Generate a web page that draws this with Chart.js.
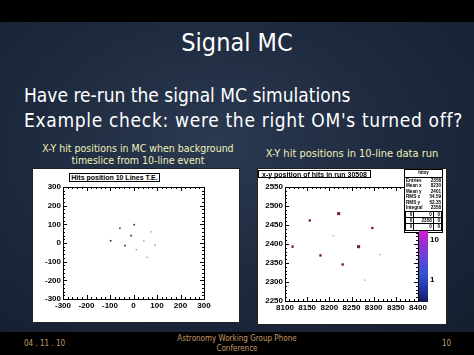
<!DOCTYPE html>
<html>
<head>
<meta charset="utf-8">
<script src="https://cdn.jsdelivr.net/npm/chart.js@4.4.1/dist/chart.umd.min.js"></script>
<style>
  html, body { margin: 0; padding: 0; width: 474px; height: 355px; overflow: hidden; background: #000; }
  body { position: relative; font-family: "DejaVu Sans Condensed", "DejaVu Sans", sans-serif; }
  .abs { position: absolute; white-space: nowrap; }
  #slide { left: 0; top: 22px; width: 474px; height: 310px;
    background: radial-gradient(ellipse at 45% 40%, #2b3a52 0%, #1f2b40 45%, #151e2f 100%); }
  #title { left: 0; width: 474px; top: 29px; text-align: center; color: #fff; font-size: 25px; line-height: 28px; }
  .bullet { left: 24px; color: #fff; font-size: 19px; line-height: 22px; }
  .cap { color: #f0f2b8; font-size: 10.5px; line-height: 12px; text-align: center; }
  .pad { background: #fff; border: 1px solid #222; box-sizing: border-box; }
  .histTitle { background: #fff; border: 1px solid #000; font: bold 7px "Liberation Sans", sans-serif;
    line-height: 7px; text-align: center; box-sizing: border-box; }
  #stats { left: 404px; top: 169px; width: 39px; height: 64px; border: 1px solid #000; background: #fff;
    box-sizing: border-box; font: bold 4.6px "Liberation Sans", sans-serif; }
  #stats table { border-collapse: collapse; width: 100%; }
  #stats td { padding: 0 1px; line-height: 5.6px; }
  #stats td.r { text-align: right; }
  #stats .hd { text-align: center; border-bottom: 1px solid #000; line-height: 6.5px; }
  #stats .g td { border: 1px solid #000; text-align: right; line-height: 5.2px; }
  #palette { left: 419px; top: 231px; width: 9px; height: 71px;
    background: linear-gradient(to bottom, #d21fd0 0%, #9a2fd0 18%, #5f45d8 40%, #3553d0 60%, #2238a8 80%, #15185e 100%); }
  .pal { font: bold 8px "Liberation Sans", sans-serif; color: #000; }
  .foot { color: #c49a66; font-size: 8px; line-height: 10px; }
</style>
</head>
<body>
<div id="slide" class="abs"></div>
<div id="title" class="abs">Signal MC</div>
<div class="abs bullet" style="top:84px">Have re-run the signal MC simulations</div>
<div class="abs bullet" style="top:109px; letter-spacing:0.68px">Example check: were the right OM's turned off?</div>

<div class="abs cap" style="left:30px; width:216px; top:142px">X-Y hit positions in MC when background<br>timeslice from 10-line event</div>
<div class="abs cap" style="left:250px; width:204px; top:148px; font-size:11px">X-Y hit positions in 10-line data run</div>

<div class="abs pad" style="left:32px; top:168px; width:208px; height:155px"></div>
<div class="abs pad" style="left:257px; top:168px; width:190px; height:157px"></div>

<div class="abs" style="left:32px; top:168px; width:208px; height:155px"><canvas id="mcChart" width="208" height="155"></canvas></div>
<div class="abs" style="left:257px; top:168px; width:190px; height:157px"><canvas id="runChart" width="190" height="157"></canvas></div>

<div class="abs histTitle" style="left:69px; top:173px; width:91px; height:9px">Hits position 10 Lines T.E.</div>
<div class="abs histTitle" style="left:258px; top:170px; width:113px; height:8px">x-y position of hits in run 30508</div>

<div id="stats" class="abs">
  <table>
    <tr><td colspan="3" class="hd">hitxy</td></tr>
  </table>
  <table id="statRows"></table>
  <table id="statGrid"></table>
</div>

<div id="palette" class="abs"></div>
<div class="abs pal" style="left:430px; top:235px">10</div>
<div class="abs pal" style="left:430px; top:275px">1</div>

<div class="abs foot" style="left:24px; top:339px">04 . 11 . 10</div>
<div class="abs foot" style="left:0; width:474px; top:334px; text-align:center">Astronomy Working Group Phone<br>Conference</div>
<div class="abs foot" style="left:442px; top:339px">10</div>

<script>
// MC: hit positions (x, y) from the background timeslice
const mcX = [3, -58, 75, -10, -97, 44, -36, 92, 12, 58];
const mcY = [98, 79, 60, 39, 12, 11, -14, -12, -35, -77];
const mcHits = [2, 2, 1, 2, 2, 1, 2, 1, 1, 1];

// data run 30508: hit positions and counts
const runX = [8221, 8156, 8297, 8209, 8117, 8266, 8180, 8314, 8230, 8280];
const runY = [2480, 2462, 2442, 2422, 2393, 2393, 2370, 2372, 2346, 2305];
const runHits = [14, 9, 10, 1, 8, 16, 9, 1, 8, 1];

// stats box
const statLabels = ["Entries", "Mean x", "Mean y", "RMS x", "RMS y", "Integral"];
const statValues = ["2358", "8230", "2401", "54.59", "52.35", "2358"];
const statGrid = [[0, 0, 0], [0, 2358, 0], [0, 0, 0]];

// fill stats table
const rows = document.getElementById("statRows");
statLabels.forEach((l, i) => {
  rows.insertAdjacentHTML("beforeend", `<tr><td>${l}</td><td class="r">${statValues[i]}</td></tr>`);
});
const grid = document.getElementById("statGrid");
statGrid.forEach(r => {
  grid.insertAdjacentHTML("beforeend", `<tr class="g">${r.map(v => `<td>${v}</td>`).join("")}</tr>`);
});

// ROOT style frame: black box with inward ticks on all sides
const rootFrame = {
  id: "rootFrame",
  afterDraw(chart, args, opts) {
    const { ctx, chartArea: a, scales: { x, y } } = chart;
    ctx.save();
    ctx.strokeStyle = "#000";
    ctx.lineWidth = 1;
    ctx.beginPath();
    for (let v = x.min; v <= x.max; v += opts.xMinor) {
      const len = (v - x.min) % opts.xMajor === 0 ? 4 : 2;
      const px = Math.round(x.getPixelForValue(v)) + 0.5;
      ctx.moveTo(px, a.bottom); ctx.lineTo(px, a.bottom - len);
      ctx.moveTo(px, a.top); ctx.lineTo(px, a.top + len);
    }
    for (let v = y.min; v <= y.max; v += opts.yMinor) {
      const len = (v - y.min) % opts.yMajor === 0 ? 4 : 2;
      const py = Math.round(y.getPixelForValue(v)) + 0.5;
      ctx.moveTo(a.left, py); ctx.lineTo(a.left + len, py);
      ctx.moveTo(a.right, py); ctx.lineTo(a.right - len, py);
    }
    ctx.stroke();
    ctx.strokeRect(Math.round(a.left) + 0.5, Math.round(a.top) + 0.5,
      Math.round(a.right - a.left), Math.round(a.bottom - a.top));
    ctx.restore();
  }
};

const tickFont = { family: "Liberation Sans", weight: "bold", size: 8 };

function axis(min, max, step, fit) {
  return {
    type: "linear", min: min, max: max,
    ticks: { stepSize: step, color: "#000", font: tickFont, padding: 2, maxRotation: 0, autoSkip: false,
      callback: v => String(v) },
    grid: { display: false, drawTicks: false },
    border: { display: false },
    afterFit: fit
  };
}

new Chart(document.getElementById("mcChart"), {
  type: "scatter",
  data: {
    datasets: [{
      data: mcX.map((v, i) => ({ x: v, y: mcY[i] })),
      pointStyle: "rect",
      pointRadius: mcHits.map(h => h > 1 ? 1.2 : 0.9),
      backgroundColor: mcHits.map(h => h > 1 ? "#3a3a3a" : "#8a8a8a"),
      borderWidth: 0
    }]
  },
  options: {
    responsive: false, animation: false, events: [],
    layout: { padding: { left: 0, right: 36, top: 19, bottom: 0 } },
    plugins: { legend: { display: false }, tooltip: { enabled: false },
      rootFrame: { xMajor: 100, xMinor: 20, yMajor: 100, yMinor: 20 } },
    scales: {
      x: axis(-300, 300, 100, s => { s.height = 24; }),
      y: axis(-300, 300, 100, s => { s.width = 31; })
    }
  },
  plugins: [rootFrame]
});

new Chart(document.getElementById("runChart"), {
  type: "scatter",
  data: {
    datasets: [{
      data: runX.map((v, i) => ({ x: v, y: runY[i] })),
      pointStyle: "rect",
      pointRadius: runHits.map(h => h > 12 ? 2.2 : h > 5 ? 1.7 : 1),
      backgroundColor: runHits.map(h => h > 5 ? "#7a1f48" : "#b89aa8"),
      borderWidth: 0
    }]
  },
  options: {
    responsive: false, animation: false, events: [],
    layout: { padding: { left: 0, right: 29, top: 19, bottom: 0 } },
    plugins: { legend: { display: false }, tooltip: { enabled: false },
      rootFrame: { xMajor: 50, xMinor: 10, yMajor: 50, yMinor: 10 } },
    scales: {
      x: axis(8100, 8400, 50, s => { s.height = 24; }),
      y: axis(2250, 2550, 50, s => { s.width = 28; })
    }
  },
  plugins: [rootFrame]
});
</script>
</body>
</html>
